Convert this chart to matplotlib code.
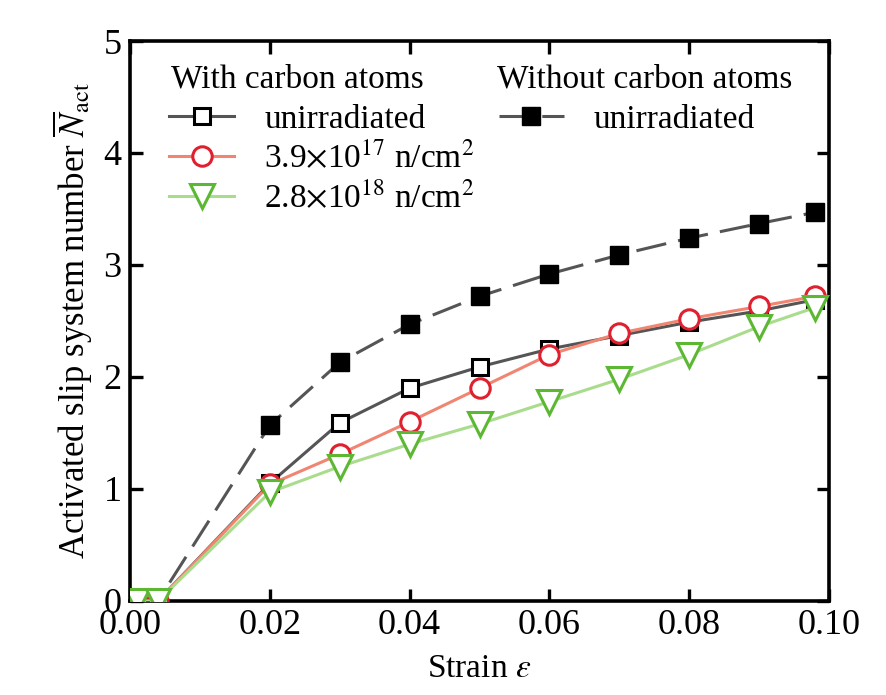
import matplotlib
matplotlib.use("Agg")
import matplotlib.pyplot as plt
from matplotlib.lines import Line2D
import numpy as np

plt.rcParams['font.family'] = ['Liberation Serif', 'DejaVu Serif']
plt.rcParams['mathtext.fontset'] = 'stix'

# 数据
strain = [0.001, 0.004, 0.02, 0.03, 0.04, 0.05, 0.06, 0.07, 0.08, 0.09, 0.098]
no_carbon_unirr = [0.0, 0.0, 1.57, 2.13, 2.47, 2.72, 2.92, 3.09, 3.24, 3.37, 3.47]
carbon_unirr = [0.0, 0.0, 1.05, 1.59, 1.90, 2.09, 2.25, 2.37, 2.49, 2.59, 2.69]
carbon_39e17 = [0.0, 0.0, 1.04, 1.31, 1.60, 1.90, 2.20, 2.39, 2.52, 2.63, 2.72]
carbon_28e18 = [0.0, 0.0, 0.97, 1.20, 1.40, 1.58, 1.78, 1.98, 2.20, 2.45, 2.62]

xticks = [0.00, 0.02, 0.04, 0.06, 0.08, 0.10]
yticks = [0, 1, 2, 3, 4, 5]

fig = plt.figure(figsize=(8.86, 6.95), dpi=100)
ax = fig.add_axes([0.1467, 0.1353, 0.789, 0.8057])

lw = 2.2
mew = 2.2

l_nc, = ax.plot(strain, no_carbon_unirr, color='#555555', lw=lw, ls=(0, (10, 4)),
                marker='s', ms=13, mfc='black', mec='black', mew=1, zorder=3)
l_cu, = ax.plot(strain, carbon_unirr, color='#555555', lw=lw,
                marker='s', ms=11.5, mfc='white', mec='black', mew=mew, zorder=4)
l_c1, = ax.plot(strain, carbon_39e17, color='#f08672', lw=lw,
                marker='o', ms=14, mfc='white', mec='#e0202e', mew=mew, zorder=5)
l_c2, = ax.plot(strain, carbon_28e18, color='#a9dc8c', lw=lw,
                marker='v', ms=17, mfc='white', mec='#5cb832', mew=mew, zorder=6)

ax.set_xlim(0, 0.1)
ax.set_ylim(0, 5)
ax.set_xticks(xticks)
ax.set_xticklabels([f'{v:.2f}' for v in xticks])
ax.set_yticks(yticks)
ax.tick_params(direction='in', length=9, width=2.4, labelsize=26,
               top=True, right=True, pad=6)
for s in ax.spines.values():
    s.set_linewidth(2.6)

ax.set_xlabel(r'Strain $\varepsilon$', fontsize=24, labelpad=8)
ax.set_ylabel(r'Activated slip system number $\overline{N}_{\rm act}$',
              fontsize=25, labelpad=6)

# 图例
blank = Line2D([], [], color='none')
handles = [l_cu, l_c1, l_c2, l_nc, blank, blank]
labels = ['unirradiated', r'3.9$\times$10$^{17}$ n/cm$^2$',
          r'2.8$\times$10$^{18}$ n/cm$^2$', 'unirradiated', '', '']
leg = ax.legend(handles, labels, ncol=2, loc='upper left',
                bbox_to_anchor=(0.056, 0.887), frameon=False, fontsize=24,
                handlelength=1.95, handletextpad=0.9, labelspacing=0.21,
                columnspacing=0.72, borderaxespad=0, borderpad=0)
ax.text(0.058, 0.931, 'With carbon atoms', transform=ax.transAxes,
        fontsize=24, va='center', ha='left')
ax.text(0.525, 0.931, 'Without carbon atoms', transform=ax.transAxes,
        fontsize=24, va='center', ha='left')

fig.savefig('out.png', dpi=100)
